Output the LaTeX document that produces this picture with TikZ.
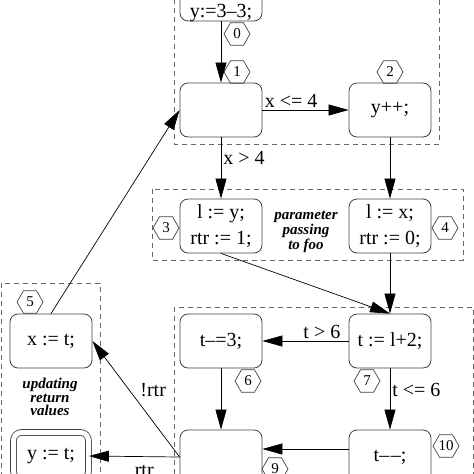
\documentclass[tikz,border=0pt]{standalone}
\usepackage{fontspec}
\setmainfont{Liberation Serif}
\usetikzlibrary{shapes.geometric,arrows.meta}
\begin{document}
\begin{tikzpicture}[x=1pt,y=-1pt,
  stmt/.style={draw=black!75, line width=0.8pt, rounded corners=8pt, minimum width=82pt, minimum height=54pt, inner sep=2pt, font=\fontsize{20}{26}\selectfont, align=center},
  dstmt/.style={stmt, double, double distance=5pt, minimum width=75pt, minimum height=47pt},
  hexa/.style={draw=black!75, line width=0.7pt, regular polygon, regular polygon sides=6, minimum size=26pt, inner sep=0pt, font=\fontsize{15}{15}\selectfont},
  grp/.style={draw=black!60, line width=0.8pt, dash pattern=on 5pt off 4pt},
  edge/.style={draw=black, line width=0.7pt, -{Triangle[length=20pt,width=11pt]}},
  elab/.style={font=\fontsize{20}{20}\selectfont, inner sep=2pt},
  note/.style={font=\fontsize{15}{13.5}\selectfont\bfseries\itshape, align=center}
]
\useasboundingbox (0,0) rectangle (474,474);
\clip (0,0) rectangle (474,474);

% groups
\draw[grp] (174,-10) rectangle (439,144);
\draw[grp] (152,189) rectangle (463,260);
\draw[grp] (174,307) rectangle (473,490);
\draw[grp] (1,283) rectangle (100,490);

% statements
\node[stmt] (n0) at (221,-6) {\raisebox{-23pt}[0pt][0pt]{y:=3--3;}};
\node[stmt] (n1) at (221,110) {};
\node[stmt] (n2) at (390,110) {y++;};
\node[stmt] (n3) at (221,226) {l := y;\\rtr := 1;};
\node[stmt] (n4) at (390,226) {l := x;\\rtr := 0;};
\node[stmt] (n5) at (51,341) {x := t;};
\node[stmt] (n6) at (221,341) {t--=3;};
\node[stmt] (n7) at (390,341) {t := l+2;};
\node[dstmt] (n8) at (51,456) {y := t;};
\node[stmt] (n9) at (221,457) {};
\node[stmt] (n10) at (390,457) {t--\kern1.5pt--;};

% hexagon labels
\node[hexa] (h0) at (237,34) {0};
\node[hexa] (h1) at (237,72) {1};
\node[hexa] (h2) at (390,72) {2};
\node[hexa] (h3) at (166,228) {3};
\node[hexa] (h4) at (445,228) {4};
\node[hexa] (h5) at (30,302) {5};
\node[hexa] (h6) at (248,381) {6};
\node[hexa] (h7) at (367,381) {7};
\node[hexa] (h9) at (275,469) {9};
\node[hexa] (h10) at (446,446) {10};

% notes
\node[note] (np) at (306,232) {parameter\\passing\\to foo};
\node[note] (nu) at (50,397) {updating\\return\\values};

% edges
\draw[edge] (n0) -- (n1);
\draw[edge] (n1) -- node[elab, pos=0, anchor=south west] {x <= 4} (n2);
\draw[edge] (n1) -- node[elab, pos=0.33, anchor=west] {x > 4} (n3);
\draw[edge] (n2) -- (n4);
\draw[edge] (n3.south) -- (n7.north);
\draw[edge] (n4) -- (n7);
\draw[edge] (n7) -- node[elab, pos=0.31, above] {t > 6} (n6);
\draw[edge] (n7) -- node[elab, pos=0.36, anchor=west] {t <= 6} (n10);
\draw[edge] (n6) -- (n9);
\draw[edge] ([yshift=8pt]n10.west) -- ([yshift=8pt]n9.east);
\draw[edge] (n9.west) -- node[elab, pos=0.58, right=9pt] {!rtr} (n5.east);
\draw[edge] (n9.west) -- node[elab, pos=0.39, below=6pt] {rtr} (n8.east);
\draw[edge] (n5.north) -- (n1.west);
\end{tikzpicture}
\end{document}
